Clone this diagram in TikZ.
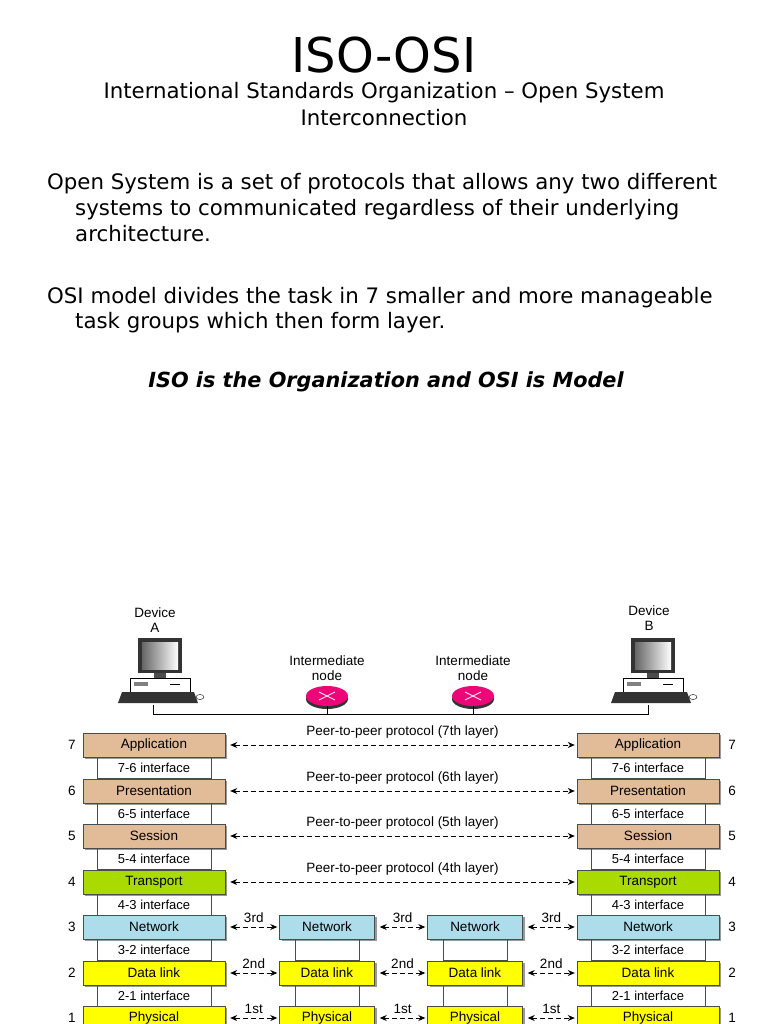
\documentclass[tikz,border=0pt]{standalone}
\usepackage{fontspec}
\setmainfont{DejaVu Sans}
\newfontfamily\dg{Liberation Sans}
\usetikzlibrary{arrows.meta,shadows}
\definecolor{tan}{HTML}{E2BB98}
\definecolor{grn}{HTML}{AADB00}
\definecolor{lblue}{HTML}{ADDCEA}
\definecolor{yel}{HTML}{FFFF00}
\tikzset{
 layer/.style={draw=black!70, minimum width=142pt, minimum height=24pt, inner sep=0pt, font=\dg\fontsize{13.5}{13.5}\selectfont, drop shadow={shadow xshift=2pt,shadow yshift=-2pt,opacity=.8}},
 mlayer/.style={layer, minimum width=95pt},
 iface/.style={draw=black!70, minimum width=114pt, minimum height=21pt, inner sep=0pt, font=\dg\fontsize{13}{13}\selectfont},
 peer/.style={dash pattern=on 5pt off 3pt, line width=1pt, {Stealth[length=7pt,width=6pt]}-{Stealth[length=7pt,width=6pt]}},
 lbl/.style={font=\dg\fontsize{13.5}{15}\selectfont},
 para/.style={anchor=base west, inner sep=0pt, font=\fontsize{21.3}{25}\selectfont},
}
\begin{document}
\begin{tikzpicture}[x=1pt,y=-1pt]
\useasboundingbox (0,0) rectangle (768,1024);
\clip (0,0) rectangle (768,1024);
\node (title) at (384,55) {\fontsize{48}{50}\selectfont ISO-OSI};
\node (sub1) at (384,93) {\fontsize{21.3}{25}\selectfont International Standards Organization – Open System};
\node (sub2) at (384,118) {\fontsize{21.3}{25}\selectfont Interconnection};
\node[para] (p1a) at (47,190) {Open System is a set of protocols that allows any two different};
\node[para] (p1b) at (75,215) {systems to communicated regardless of their underlying};
\node[para] (p1c) at (75,241) {architecture.};
\node[para] (p2a) at (47,303) {OSI model divides the task in 7 smaller and more manageable};
\node[para] (p2b) at (75,328) {task groups which then form layer.};
\node (p3) at (386,382) {\fontsize{20.8}{24}\selectfont\bfseries\itshape ISO is the Organization and OSI is Model};

% devices
\foreach \cx in {160,653}{
 \begin{scope}[shift={(\cx,0)}]
 \fill[black!80] (-22,638) rectangle (22,673);
 \shade[left color=black!60,right color=white] (-18,642) rectangle (18,669);
 \fill[black!70] (-6,673) rectangle (6,678);
 \draw[fill=white] (-30,678) rectangle (30,692);
 \fill[black!50] (-26,682) rectangle (-12,686);
 \draw (10,684) -- (20,684);
 \fill[black!80] (-38,692) -- (34,692) -- (38,703) -- (-42,703) -- cycle;
 \draw (40,697) ellipse (4pt and 2.5pt);
 \end{scope}}
\node[lbl,align=center] (devA) at (155,620) {Device\\A};
\node[lbl,align=center] (devB) at (649,618) {Device\\B};
\node[lbl,align=center] (im1) at (327,668) {Intermediate\\node};
\node[lbl,align=center] (im2) at (473,668) {Intermediate\\node};
\foreach \x in {327,473}{
 \fill[black!80] (\x,699) ellipse (21pt and 10pt);
 \fill[magenta!80!red] (\x,696) ellipse (21pt and 10pt);
 \draw[white,thick] (\x-8,692)--(\x+8,700) (\x-8,700)--(\x+8,692);
}
\coordinate (la) at (153,714); \coordinate (lb) at (648,714);
\draw[thick] (153,705) -- (la) -- (lb) -- (648,705);
\draw[thick] (327,706) -- (327,714) (473,706) -- (473,714);

% stacks
\foreach \side/\cx/\nx in {L/154/72, R/648/732}{
 \node[layer,fill=tan] (\side7) at (\cx,745) {Application};
 \node[iface] (\side76) at (\cx,768) {7-6 interface};
 \node[layer,fill=tan] (\side6) at (\cx,791) {Presentation};
 \node[iface] (\side65) at (\cx,814) {6-5 interface};
 \node[layer,fill=tan] (\side5) at (\cx,836) {Session};
 \node[iface] (\side54) at (\cx,859) {5-4 interface};
 \node[layer,fill=grn] (\side4) at (\cx,882) {Transport};
 \node[iface] (\side43) at (\cx,905) {4-3 interface};
 \node[layer,fill=lblue] (\side3) at (\cx,927) {Network};
 \node[iface] (\side32) at (\cx,950) {3-2 interface};
 \node[layer,fill=yel] (\side2) at (\cx,973) {Data link};
 \node[iface] (\side21) at (\cx,996) {2-1 interface};
 \node[layer,fill=yel] (\side1) at (\cx,1018) {Physical};
 \foreach \k/\y in {7/745,6/791,5/836,4/882,3/927,2/973,1/1018}
   \node[lbl] (n\side\k) at (\nx,\y) {\k};
}
\foreach \m/\cx in {M/327,N/475}{
 \node[mlayer,fill=lblue] (\m3) at (\cx,927) {Network};
 \node[draw=black!70,minimum width=64pt,minimum height=21pt] (\m32) at (\cx,950) {};
 \node[mlayer,fill=yel] (\m2) at (\cx,973) {Data link};
 \node[draw=black!70,minimum width=64pt,minimum height=21pt] (\m21) at (\cx,996) {};
 \node[mlayer,fill=yel] (\m1) at (\cx,1018) {Physical};
}
\foreach \k/\t in {7/7th,6/6th,5/5th,4/4th}{
 \draw[peer] ([xshift=5pt]L\k.east) -- node[lbl,above=3pt] {Peer-to-peer protocol (\t\ layer)} ([xshift=-2pt]R\k.west);
}
\foreach \k/\t in {3/3rd,2/2nd,1/1st}{
 \draw[peer] ([xshift=5pt]L\k.east) -- node[lbl,above=1pt] {\t} ([xshift=-2pt]M\k.west);
 \draw[peer] ([xshift=5pt]M\k.east) -- node[lbl,above=1pt] {\t} ([xshift=-2pt]N\k.west);
 \draw[peer] ([xshift=5pt]N\k.east) -- node[lbl,above=1pt] {\t} ([xshift=-2pt]R\k.west);
}
\end{tikzpicture}
\end{document}
